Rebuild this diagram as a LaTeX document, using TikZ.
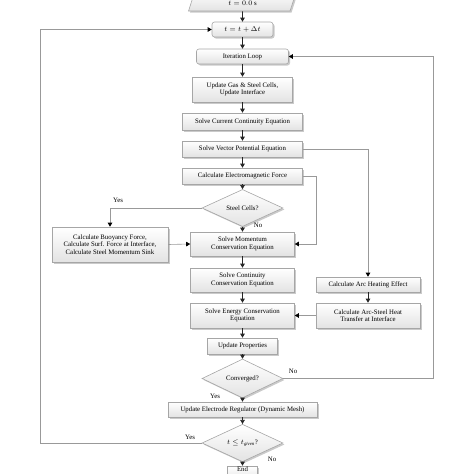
\documentclass[tikz,border=0pt]{standalone}
\usepackage{fontspec}
\setmainfont{Liberation Serif}
\usetikzlibrary{shapes.geometric,shadows,arrows.meta}
\begin{document}
\begin{tikzpicture}[x=1pt,y=1pt,
 base/.style={draw=gray!70, line width=0.6pt, top color=white, bottom color=gray!22,
   drop shadow={shadow xshift=1.5pt,shadow yshift=-1.5pt,fill=gray!70,opacity=0.6},
   font=\fontsize{6.8}{7.6}\selectfont, align=center, inner sep=0pt},
 sbox/.style={base, rectangle},
 rbox/.style={base, rectangle, rounded corners=2.5pt},
 dec/.style={base, diamond, minimum width=81pt},
 arr/.style={draw=black!85, line width=0.6pt, -{Triangle[length=4pt,width=4.5pt]}},
 garr/.style={draw=gray!80, line width=0.6pt, -{Triangle[length=4pt,width=4.5pt,color=black]}},
 lbl/.style={font=\fontsize{6.8}{7.6}\selectfont, inner sep=0pt}
]
\useasboundingbox (0,0) rectangle (474,-474);
% nodes
\node[base, trapezium, trapezium left angle=78, trapezium right angle=102, trapezium stretches=true,
  minimum width=108pt, minimum height=20pt, text height=9pt, text depth=0pt] (start) at (242.5,-1) {$t = 0.0$ s};
\node[rbox, minimum width=61pt, minimum height=15pt] (tb) at (242.5,-29.5) {$t = t + \Delta t$};
\node[rbox, minimum width=92pt, minimum height=15pt] (iter) at (242.5,-56.5) {Iteration Loop};
\node[sbox, minimum width=100pt, minimum height=25pt] (gas) at (242.5,-89.5) {Update Gas \& Steel Cells,\\Update Interface};
\node[sbox, minimum width=120pt, minimum height=17pt] (cur) at (242.5,-121.5) {Solve Current Continuity Equation};
\node[sbox, minimum width=120pt, minimum height=16pt] (vec) at (242.5,-149) {Solve Vector Potential Equation};
\node[sbox, minimum width=120pt, minimum height=16pt] (em) at (242.5,-176) {Calculate Electromagnetic Force};
\node[dec, minimum height=26pt] (steel) at (242.5,-208) {Steel Cells?};
\node[sbox, minimum width=116pt, minimum height=35pt] (buoy) at (110,-244.5) {Calculate Buoyancy Force,\\Calculate Surf. Force at Interface,\\Calculate Steel Momentum Sink};
\node[sbox, minimum width=104pt, minimum height=24pt] (mom) at (242.5,-244) {Solve Momentum\\Conservation Equation};
\node[sbox, minimum width=104pt, minimum height=24pt] (cont) at (242.5,-280) {Solve Continuity\\Conservation Equation};
\node[sbox, minimum width=104pt, minimum height=25pt] (energy) at (242.5,-315.5) {Solve Energy Conservation\\Equation};
\node[sbox, minimum width=104pt, minimum height=15pt] (arch) at (368,-284.5) {Calculate Arc Heating Effect};
\node[sbox, minimum width=104pt, minimum height=25pt] (arcs) at (368,-315.5) {Calculate Arc-Steel Heat\\Transfer at Interface};
\node[sbox, minimum width=70pt, minimum height=16pt] (props) at (242.5,-346) {Update Properties};
\node[dec, minimum height=25pt] (conv) at (242.5,-378.5) {Converged?};
\node[sbox, minimum width=149pt, minimum height=15pt] (elec) at (242.5,-409.5) {Update Electrode Regulator (Dynamic Mesh)};
\node[dec, minimum height=27pt] (tg) at (242.5,-443) {$t \le t_{\mathit{given}}$?};
\node[sbox, minimum width=30pt, minimum height=16pt, text depth=9pt] (end) at (242.5,-474) {End};
% waypoints
\coordinate (rr) at (433,-378.5);
\coordinate (ll) at (40.7,-443);
\coordinate (emr) at (316,-176);
% connectors
\draw[arr] (start) -- (tb);
\draw[arr] (tb) -- (iter);
\draw[arr] (iter) -- (gas);
\draw[arr] (gas) -- (cur);
\draw[arr] (cur) -- (vec);
\draw[arr] (vec) -- (em);
\draw[arr] (em) -- (steel);
\draw[arr] (steel) -- (mom);
\draw[garr] (steel.west) -| (buoy.north);
\draw[garr] (buoy.east) -- (mom.west);
\draw[garr] (vec.east) -| (arch.north);
\draw[garr] (em.east) -- (emr) |- (mom.east);
\draw[arr] (mom) -- (cont);
\draw[arr] (cont) -- (energy);
\draw[arr] (arch) -- (arcs);
\draw[garr] (arcs.west) -- (energy.east);
\draw[arr] (energy) -- (props);
\draw[arr] (props) -- (conv);
\draw[garr] (conv.east) -- (rr) |- (iter.east);
\draw[arr] (conv) -- (elec);
\draw[arr] (elec) -- (tg);
\draw[garr] (tg.west) -- (ll) |- (tb.west);
\draw[arr] (tg) -- (end);
% labels
\node[lbl] (yes1) at (118,-200) {Yes};
\node[lbl] (no1) at (258,-225) {No};
\node[lbl] (no2) at (293,-371) {No};
\node[lbl] (yes2) at (215,-396) {Yes};
\node[lbl] (yes3) at (190,-437) {Yes};
\node[lbl] (no3) at (272,-459) {No};
\end{tikzpicture}
\end{document}
